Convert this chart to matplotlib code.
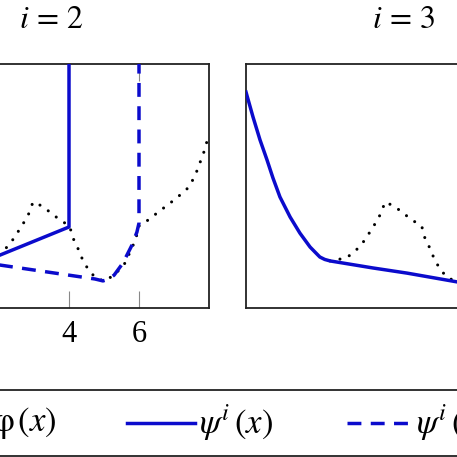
import matplotlib
matplotlib.use("Agg")
import matplotlib.pyplot as plt

plt.rcParams['mathtext.fontset'] = 'stix'
plt.rcParams['font.family'] = ['Liberation Serif', 'DejaVu Serif']

# ---- data ----
phi_x = [1.4, 1.86, 2.1, 2.33, 2.52, 2.7, 2.86, 2.97, 3.23, 3.49, 3.74, 4.02, 4.1, 4.25,
         4.38, 4.54, 4.76, 5.0, 5.3, 5.6, 5.9, 6.0, 6.11, 6.37, 6.63, 6.89, 7.14, 7.4,
         7.57, 7.69, 7.8, 7.91, 7.97, 8.0]
phi_y = [1.93, 2.05, 2.30, 2.66, 3.07, 3.48, 3.89, 4.34, 4.18, 3.89, 3.61, 3.36, 2.91, 2.46,
         2.01, 1.60, 1.23, 1.11, 1.35, 1.84, 2.79, 3.36, 3.44, 3.73, 4.02, 4.30, 4.59, 4.92,
         5.33, 5.74, 6.19, 6.60, 7.09, 7.17]

psi2_solid_x = [-1.0, 2.03, 4.0, 4.0]
psi2_solid_y = [0.41, 2.17, 3.32, 12.0]

psi2_dash_x = [-1.0, 2.03, 4.74, 4.97, 5.15, 5.29, 5.54, 5.8, 5.94, 6.0, 6.0]
psi2_dash_y = [2.42, 1.76, 1.19, 1.11, 1.19, 1.35, 1.84, 2.58, 3.11, 3.48, 12.0]

psi3_x = [-1.0, -0.8, -0.6, -0.4, -0.23, -0.03, 0.26, 0.54, 0.83, 1.0, 1.11, 1.25, 1.4, 2.63, 3.6, 5.03, 8.0]
psi3_y = [8.85, 7.83, 6.89, 6.07, 5.33, 4.55, 3.73, 3.07, 2.50, 2.25, 2.09, 1.99, 1.93, 1.64, 1.43, 1.07, 0.37]

panel_titles = [r'$i\,=\,2$', r'$i\,=\,3$']
xticks_panel2 = [4, 6]
xtick_labels_panel2 = ['4', '6']
legend_labels = [r'$\mathrm{\varphi}\,(x)$', r'$\psi^{i}\,(x)$', r'$\psi^{i}\,(x)$']

# ---- style ----
W = H = 457
BLUE = '#0b0bcc'
LW_B = 2.5
LW_D = 2.2
DOT = (0, (0.01, 3.3))
DASH = (0, (4.0, 2.7))

fig = plt.figure(figsize=(W / 100, H / 100), dpi=100)


def px_axes(left, right, top, bottom):
    return fig.add_axes([left / W, (H - bottom) / H, (right - left) / W, (bottom - top) / H])


ax2 = px_axes(-106, 209, 64, 308)
ax3 = px_axes(246, 561, 64, 308)

for ax, title in zip((ax2, ax3), panel_titles):
    ax.set_xlim(-1, 8)
    ax.set_ylim(0, 10)
    ax.set_yticks([])
    for s in ax.spines.values():
        s.set_linewidth(1.3)
        s.set_color('#222222')
    ax.set_title(title, fontsize=23, pad=26)
    ax.tick_params(axis='x', direction='in', top=True, bottom=True, length=12,
                   width=0.8, color='#888888', labelsize=22, pad=9)

ax2.set_xticks(xticks_panel2)
ax2.set_xticklabels(xtick_labels_panel2)
ax3.set_xticks([])

# panel i=2
ax2.plot(phi_x, phi_y, color='black', lw=LW_D, linestyle=DOT, dash_capstyle='round', zorder=2)
ax2.plot(psi2_solid_x, psi2_solid_y, color=BLUE, lw=LW_B, zorder=3)
ax2.plot(psi2_dash_x, psi2_dash_y, color=BLUE, lw=LW_B, linestyle=DASH, zorder=3)

# panel i=3
ax3.plot(phi_x, phi_y, color='black', lw=LW_D, linestyle=DOT, dash_capstyle='round', zorder=2)
ax3.plot(psi3_x, psi3_y, color=BLUE, lw=LW_B, zorder=3)

# ---- legend box (manual layout) ----
lax = fig.add_axes([0, 0, 1, 1], facecolor='none')
lax.set_xlim(0, W)
lax.set_ylim(H, 0)
lax.axis('off')
lax.plot([-10, W + 10], [390, 390], color='#222222', lw=1.3)
lax.plot([-10, W + 10], [455.5, 455.5], color='#222222', lw=1.3)

yl = 423
FSL = 25
lax.plot([-90, -25], [yl, yl], color='black', lw=LW_D, linestyle=DOT, dash_capstyle='round')
lax.text(57, yl, legend_labels[0], fontsize=FSL, ha='right', va='center')
lax.plot([127, 195], [yl, yl], color=BLUE, lw=LW_B)
lax.text(199, yl, legend_labels[1], fontsize=FSL, ha='left', va='center')
lax.plot([347, 410], [yl, yl], color=BLUE, lw=LW_B, linestyle=DASH)
lax.text(416, yl, legend_labels[2], fontsize=FSL, ha='left', va='center')

fig.savefig('out.png', dpi=100)
